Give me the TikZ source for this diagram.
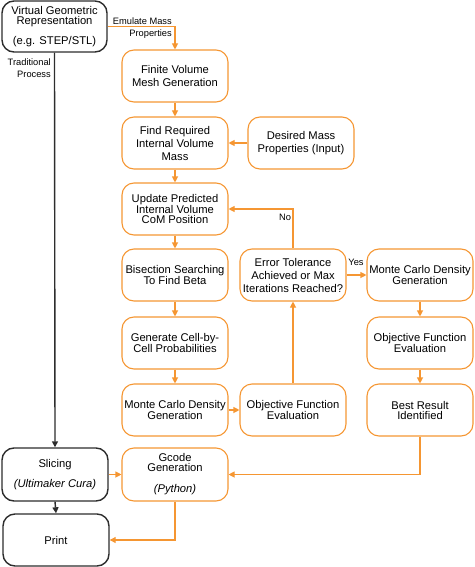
\documentclass[tikz,border=0pt]{standalone}
\usepackage{fontspec}
\setmainfont{Liberation Sans}
\usetikzlibrary{arrows.meta}
\definecolor{org}{RGB}{245,150,50}
\definecolor{drk}{RGB}{45,45,45}
\tikzset{
  box/.style={draw=org, line width=1.1pt, rounded corners=12pt, minimum width=106pt, minimum height=52pt, inner sep=0pt, align=center, text=black},
  dbox/.style={box, draw=drk, line width=1.4pt},
  loose/.style={font=\fontsize{11.2}{13}\selectfont},
  tight/.style={font=\fontsize{11.2}{10}\selectfont},
  oarr/.style={draw=org, line width=1.1pt, -{Triangle[length=6pt,width=6pt]}},
  darr/.style={draw=drk, line width=1.4pt, -{Triangle[length=6pt,width=6pt]}},
  lbl/.style={font=\fontsize{9.3}{11}\selectfont, inner sep=0pt, text=black}
}
\begin{document}
\begin{tikzpicture}[x=1pt,y=-1pt]
\useasboundingbox (0,0) rectangle (474,567);
\node[dbox, minimum width=105pt, minimum height=51pt, tight] (vgr) at (54.5,26.5) {Virtual Geometric\\Representation\\[8pt](e.g. STEP/STL)};
\node[box, loose] (fvm) at (175,76) {Finite Volume\\Mesh Generation};
\node[box, loose] (find) at (175,143) {Find Required\\Internal Volume\\Mass};
\node[box, loose] (des) at (301,143) {Desired Mass\\Properties (Input)};
\node[box, tight] (upd) at (175,209) {Update Predicted\\Internal Volume\\CoM Position};
\node[box, tight] (bis) at (175,275) {Bisection Searching\\To Find Beta};
\node[box, loose] (err) at (293,275) {Error Tolerance\\Achieved or Max\\Iterations Reached?};
\node[box, tight] (mcr) at (420,275) {Monte Carlo Density\\Generation};
\node[box, tight] (gen) at (175,343) {Generate Cell-by-\\Cell Probabilities};
\node[box, tight] (objr) at (420,343) {Objective Function\\Evaluation};
\node[box, tight] (mcl) at (175,410) {Monte Carlo Density\\Generation};
\node[box, tight] (objm) at (293,410) {Objective Function\\Evaluation};
\node[box, tight] (best) at (420,410) {Best Result\\Identified};
\node[dbox, minimum height=53pt, minimum width=106pt, font=\fontsize{11.2}{20}\selectfont] (slice) at (55,474.5) {Slicing\\\textit{(Ultimaker Cura)}};
\node[box, minimum height=53pt, tight] (gcode) at (175,474.5) {Gcode\\Generation\\[11pt]\textit{(Python)}};
\node[dbox, loose] (print) at (56,540) {Print};

\draw[oarr] (vgr.east) -| (fvm.north);
\node[lbl, anchor=east] (l1) at (172,21) {Emulate Mass};
\node[lbl, anchor=east] (l2) at (172,34) {Properties};
\draw[darr] (vgr.south) -- (slice.north);
\node[lbl, anchor=east] (l3) at (51,62) {Traditional};
\node[lbl, anchor=east] (l4) at (51,74) {Process};
\draw[oarr] (fvm) -- (find);
\draw[oarr] (des) -- (find);
\draw[oarr] (find) -- (upd);
\draw[oarr] (upd) -- (bis);
\draw[oarr] (bis) -- (gen);
\draw[oarr] (gen) -- (mcl);
\draw[oarr] (mcl) -- (objm);
\draw[oarr] (objm) -- (err);
\draw[oarr] (err.north) |- (upd.east);
\node[lbl] (no) at (285,217) {No};
\draw[oarr] (err) -- (mcr);
\node[lbl] (yes) at (356,262) {Yes};
\draw[oarr] (mcr) -- (objr);
\draw[oarr] (objr) -- (best);
\draw[oarr] (best.south) |- (gcode.east);
\draw[oarr] (slice) -- (gcode);
\draw[darr] (slice.south) -- (print.north);
\draw[oarr] (gcode.south) |- (print.east);
\end{tikzpicture}
\end{document}
